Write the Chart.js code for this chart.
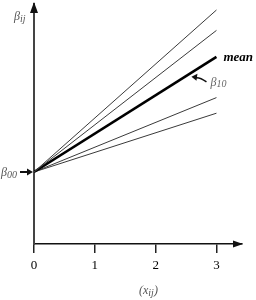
<!DOCTYPE html>
<html>
<head>
<meta charset="utf-8">
<script src="https://cdn.jsdelivr.net/npm/chart.js@4/dist/chart.umd.min.js"></script>
<style>
  html, body { margin: 0; padding: 0; background: #fff; }
  #wrap { width: 256px; height: 300px; }
</style>
</head>
<body>
<div id="wrap"><canvas id="slopeChart"></canvas></div>
<script>
// данные: x от 0 до 3, все прямые начинаются в beta00
var xPoints = [0, 3];
var line1 = [3.0, 9.75];
var line2 = [3.0, 8.9];
var meanLine = [3.0, 7.8];
var line4 = [3.0, 6.1];
var line5 = [3.0, 5.45];
var xTicks = [0, 1, 2, 3];

function toPoints(ys) {
    return xPoints.map(function (x, i) { return { x: x, y: ys[i] }; });
}

var thin = { borderColor: '#3a3a3a', borderWidth: 1, pointRadius: 0, fill: false };
var SERIF = '"Liberation Serif", "Times New Roman", serif';

// текст с нижним индексом, возвращает конец по x
function subText(c, base, sub, x, y, size, extra) {
    var pre = extra || '';
    c.font = pre + 'italic ' + size + 'px ' + SERIF;
    c.fillText(base, x, y);
    var w = c.measureText(base).width;
    c.font = pre + 'italic ' + Math.round(size * 0.8) + 'px ' + SERIF;
    c.fillText(sub, x + w, y + 2);
    return x + w + c.measureText(sub).width;
}

// стрелки осей и подписи
var annotate = {
    id: 'annotate',
    afterDraw: function (chart) {
        var c = chart.ctx;
        var xs = chart.scales.x, ys = chart.scales.y;
        var left = chart.chartArea.left, bottom = chart.chartArea.bottom;
        var top = chart.chartArea.top, right = chart.chartArea.right;
        c.save();
        c.fillStyle = '#111';
        // стрелка оси y
        c.beginPath();
        c.moveTo(left, top - 2);
        c.lineTo(left - 4, top + 9);
        c.lineTo(left + 4, top + 9);
        c.closePath();
        c.fill();
        // стрелка оси x
        c.beginPath();
        c.moveTo(right + 1, bottom);
        c.lineTo(right - 9, bottom - 3.5);
        c.lineTo(right - 9, bottom + 3.5);
        c.closePath();
        c.fill();

        c.textBaseline = 'middle';
        c.textAlign = 'left';

        // beta_ij
        c.fillStyle = '#555';
        subText(c, '\u03B2', 'ij', 14, 17, 12);

        // beta00 со стрелкой
        var y0 = ys.getPixelForValue(meanLine[0]);
        subText(c, '\u03B2', '00', 1, y0 + 1, 12);
        c.strokeStyle = '#111';
        c.lineWidth = 2;
        c.beginPath();
        c.moveTo(20, y0);
        c.lineTo(28, y0);
        c.stroke();
        c.beginPath();
        c.moveTo(33, y0);
        c.lineTo(27, y0 - 3.5);
        c.lineTo(27, y0 + 3.5);
        c.closePath();
        c.fillStyle = '#111';
        c.fill();

        // mean
        var xEnd = xs.getPixelForValue(xPoints[1]);
        var yMean = ys.getPixelForValue(meanLine[1]);
        c.fillStyle = '#000';
        c.font = 'bold italic 13px ' + SERIF;
        c.fillText('mean', xEnd + 7, yMean + 1);

        // beta10 с изогнутой стрелкой
        c.fillStyle = '#666';
        subText(c, '\u03B2', '10', xEnd - 6, yMean + 26, 12);
        c.strokeStyle = '#111';
        c.lineWidth = 1.5;
        c.beginPath();
        c.moveTo(xEnd - 10, yMean + 25);
        c.quadraticCurveTo(xEnd - 17, yMean + 20, xEnd - 21, yMean + 21);
        c.stroke();
        c.beginPath();
        c.moveTo(xEnd - 25, yMean + 20);
        c.lineTo(xEnd - 19, yMean + 17);
        c.lineTo(xEnd - 20, yMean + 24);
        c.closePath();
        c.fillStyle = '#111';
        c.fill();

        // (x_ij)
        c.fillStyle = '#555';
        var xe = subText(c, '(x', 'ij', 139, 291, 12);
        c.font = 'italic 12px ' + SERIF;
        c.fillText(')', xe, 291);
        c.restore();
    }
};

var ctx = document.getElementById('slopeChart').getContext('2d');
var slopeChart = new Chart(ctx, {
    type: 'line',
    data: {
        datasets: [
            Object.assign({ data: toPoints(line1) }, thin),
            Object.assign({ data: toPoints(line2) }, thin),
            { data: toPoints(meanLine), borderColor: '#000', borderWidth: 2.6, pointRadius: 0, fill: false },
            Object.assign({ data: toPoints(line4) }, thin),
            Object.assign({ data: toPoints(line5) }, thin)
        ]
    },
    options: {
        responsive: true,
        maintainAspectRatio: false,
        animation: false,
        layout: { padding: { left: 34, right: 14, top: 4, bottom: 0 } },
        plugins: {
            legend: { display: false },
            tooltip: { enabled: false }
        },
        scales: {
            x: {
                type: 'linear',
                min: 0,
                max: 3.42,
                afterBuildTicks: function (scale) {
                    scale.ticks = xTicks.map(function (v) { return { value: v }; });
                },
                afterFit: function (scale) { scale.height = 56; },
                grid: {
                    display: true,
                    drawOnChartArea: false,
                    drawTicks: true,
                    tickLength: 9,
                    color: '#222',
                    lineWidth: 1.5
                },
                border: { display: true, color: '#111', width: 1.5 },
                ticks: {
                    padding: 5,
                    color: '#000',
                    font: { family: SERIF, size: 13 },
                    maxRotation: 0
                }
            },
            y: {
                min: 0,
                max: 10,
                afterFit: function (scale) { scale.width = 0; },
                grid: { display: false },
                border: { display: true, color: '#444', width: 2 },
                ticks: { display: false }
            }
        }
    },
    plugins: [annotate]
});
</script>
</body>
</html>
